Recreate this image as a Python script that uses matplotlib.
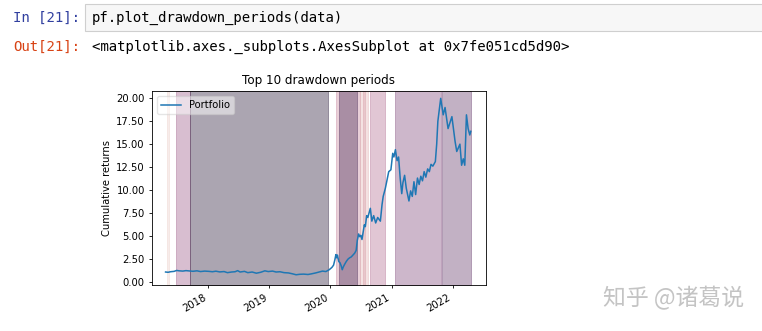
import numpy as np
import pandas as pd
import seaborn as sns
import matplotlib
matplotlib.use("Agg")
import matplotlib.pyplot as plt
import matplotlib.dates as mdates
from matplotlib.patches import Rectangle

# cumulative returns
dates = [
    "2017-04-20", "2017-05-05", "2017-05-20", "2017-06-10", "2017-06-25", "2017-07-10",
    "2017-08-01", "2017-08-20", "2017-09-10", "2017-10-01", "2017-10-25", "2017-11-15",
    "2017-12-10", "2018-01-05", "2018-01-25", "2018-02-15", "2018-03-10", "2018-04-05",
    "2018-04-25", "2018-05-20", "2018-06-10", "2018-06-25", "2018-07-10", "2018-08-05",
    "2018-08-25", "2018-09-20", "2018-10-15", "2018-11-10", "2018-12-05", "2018-12-25",
    "2019-01-20", "2019-02-10", "2019-03-05", "2019-03-30", "2019-04-25", "2019-05-20",
    "2019-06-10", "2019-07-01", "2019-07-25", "2019-08-20", "2019-09-10", "2019-10-05",
    "2019-10-25", "2019-11-15", "2019-12-05", "2019-12-25", "2020-01-10", "2020-01-20",
    "2020-01-28", "2020-02-03", "2020-02-08", "2020-02-12", "2020-02-20", "2020-02-28",
    "2020-03-06", "2020-03-12", "2020-03-18", "2020-03-25", "2020-04-05", "2020-04-15",
    "2020-04-25", "2020-05-05", "2020-05-15", "2020-05-25", "2020-06-03", "2020-06-10",
    "2020-06-18", "2020-06-25", "2020-07-01", "2020-07-08", "2020-07-15", "2020-07-22",
    "2020-07-28", "2020-08-05", "2020-08-12", "2020-08-27", "2020-09-05", "2020-09-16",
    "2020-09-28", "2020-10-10", "2020-10-26", "2020-11-05", "2020-11-12", "2020-11-25",
    "2020-12-05", "2020-12-15", "2020-12-28", "2021-01-08", "2021-01-15", "2021-01-24",
    "2021-02-03", "2021-02-12", "2021-02-22", "2021-03-03", "2021-03-10", "2021-03-20",
    "2021-03-30", "2021-04-06", "2021-04-15", "2021-04-25", "2021-05-05", "2021-05-15",
    "2021-05-25", "2021-06-05", "2021-06-15", "2021-06-25", "2021-07-05", "2021-07-15",
    "2021-07-25", "2021-08-05", "2021-08-15", "2021-08-25", "2021-09-05", "2021-09-20",
    "2021-09-28", "2021-10-05", "2021-10-12", "2021-10-22", "2021-11-06", "2021-11-17",
    "2021-12-05", "2021-12-28", "2022-01-16", "2022-01-26", "2022-02-14", "2022-02-24",
    "2022-03-06", "2022-03-15", "2022-03-25", "2022-04-04", "2022-04-14", "2022-04-20",
]
cum_returns = [
    1.05, 1.02, 1.08, 1.12, 1.22, 1.18,
    1.15, 1.20, 1.17, 1.13, 1.18, 1.10,
    1.15, 1.12, 1.08, 1.14, 1.06, 1.10,
    0.98, 1.05, 1.08, 1.20, 1.05, 1.12,
    0.98, 1.05, 0.92, 1.02, 1.18, 1.10,
    1.15, 1.05, 1.08, 0.98, 0.95, 0.85,
    0.75, 0.80, 0.82, 0.78, 0.85, 0.95,
    1.05, 1.15, 1.10, 1.30, 1.55, 1.80,
    2.40, 2.95, 2.60, 2.90, 2.20, 2.05,
    1.70, 1.30, 1.60, 1.85, 2.20, 2.45,
    2.60, 2.70, 2.90, 3.10, 3.40, 4.50,
    5.20, 4.90, 5.05, 4.60, 5.40, 6.20,
    6.00, 7.20, 7.00, 8.00, 6.60, 7.20,
    6.40, 7.00, 6.60, 8.40, 9.30, 10.2,
    11.1, 12.0, 12.2, 14.0, 13.6, 14.4,
    13.2, 13.6, 11.2, 9.60, 10.8, 11.6,
    10.2, 9.60, 8.80, 9.90, 9.30, 10.9,
    9.50, 11.3, 10.6, 11.5, 11.0, 12.0,
    11.4, 12.3, 12.0, 12.8, 12.6, 13.1,
    15.0, 17.5, 18.5, 20.0, 18.2, 19.0,
    16.7, 18.0, 15.3, 14.2, 15.0, 12.7,
    13.4, 12.7, 18.2, 16.7, 16.0, 16.4,
]

# drawdown periods (peak, recovery) and their rank (0 = worst)
dd_peaks = ["2017-05-01", "2017-06-20", "2017-09-12", "2020-02-06", "2020-02-20",
            "2020-06-29", "2020-07-13", "2020-08-23", "2021-01-24", "2021-11-01"]
dd_recoveries = ["2017-05-12", "2017-09-12", "2019-12-18", "2020-06-29", "2020-06-10",
                 "2020-08-14", "2020-07-24", "2020-11-22", "2021-10-23", "2022-04-20"]
dd_rank = [9, 4, 0, 6, 1, 8, 7, 5, 3, 2]

W, H = 762, 331


def fx(x):
    return x / W


def fy(y):
    return 1 - y / H


fig = plt.figure(figsize=(W / 100, H / 100), dpi=100)
fig.patch.set_facecolor("white")

mono = ["DejaVu Sans Mono"]
# notebook input cell
fig.patches.append(Rectangle((fx(85), fy(31)), fx(700), (27 / H), transform=fig.transFigure,
                             facecolor="#f7f7f7", edgecolor="#cfcfcf", linewidth=0.8))
fig.text(fx(13), fy(17.5), "In [21]:", family=mono, fontsize=10.1, color="#303f9f", va="center")
fig.text(fx(92), fy(17.5), "pf.plot_drawdown_periods(data)", family=mono, fontsize=10.1,
         color="#000000", va="center")
fig.text(fx(13), fy(47), "Out[21]:", family=mono, fontsize=10.1, color="#d84315", va="center")
fig.text(fx(92), fy(47), "<matplotlib.axes._subplots.AxesSubplot at 0x7fe051cd5d90>",
         family=mono, fontsize=10.1, color="#000000", va="center")

# the chart itself (pyfolio style)
ax = fig.add_axes([fx(151.7), fy(285.3), fx(486 - 151.7), (285.3 - 91) / H])
x = pd.to_datetime(dates)
ax.plot(x, cum_returns, color="#1f77b4", lw=1.1, label="Portfolio")
lim = (-0.4, 20.8)
colors = sns.cubehelix_palette(len(dd_peaks))[::-1]
for peak, recovery, rank in zip(dd_peaks, dd_recoveries, dd_rank):
    ax.fill_between(pd.to_datetime([peak, recovery]), lim[0], lim[1], alpha=.4,
                    color=colors[rank], linewidth=0.7)
ax.set_ylim(lim)
ax.set_xlim(pd.Timestamp("2017-01-27"), pd.Timestamp("2022-07-20"))
ax.set_yticks(np.arange(0, 20.01, 2.5))
ax.yaxis.set_major_formatter(plt.FormatStrFormatter("%.2f"))
ax.xaxis.set_major_locator(mdates.YearLocator())
ax.xaxis.set_major_formatter(mdates.DateFormatter("%Y"))
for lbl in ax.get_xticklabels():
    lbl.set_rotation(30)
    lbl.set_ha("right")
ax.tick_params(labelsize=7.2, length=2.5, width=0.6, pad=2.5)
for s in ax.spines.values():
    s.set_linewidth(0.6)
ax.set_title("Top 10 drawdown periods", fontsize=8.6, pad=5)
ax.set_ylabel("Cumulative returns", fontsize=7.2, labelpad=3)
ax.legend(["Portfolio"], loc="upper left", frameon=True, framealpha=0.5, fontsize=7.2,
          handlelength=2.0, borderpad=0.4)

# watermark
fig.text(fx(603), fy(298), "知乎 @诸葛说", family=["Noto Sans CJK SC", "DejaVu Sans"],
         fontsize=16.5, color="#c4c4c4", va="center")

fig.savefig("out.png", dpi=100, facecolor="white")
